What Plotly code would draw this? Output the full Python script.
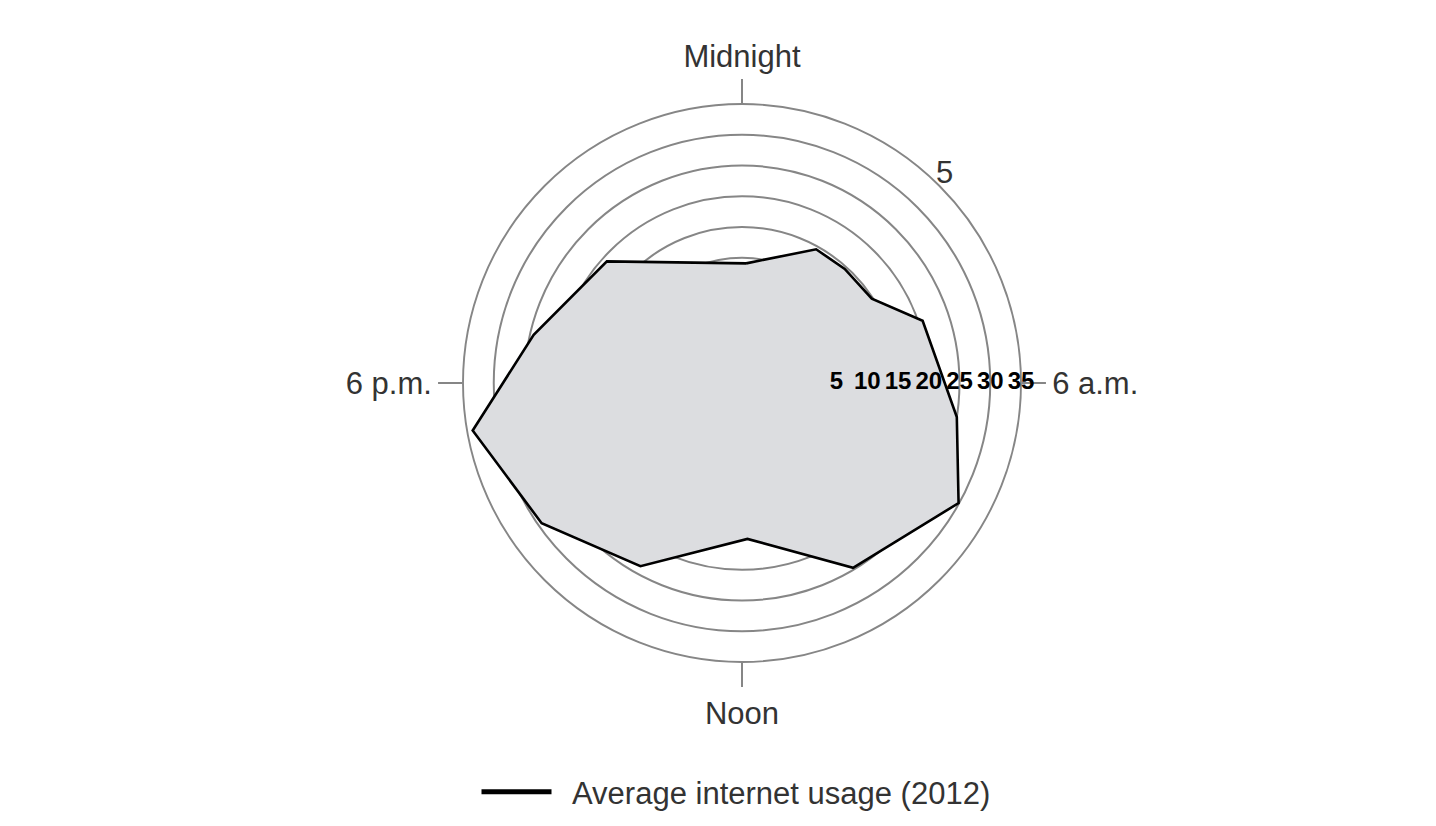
import plotly.graph_objects as go

# angle of each reading, degrees clockwise from midnight (15 deg = 1 hour)
angle_deg = [2, 29, 42, 57, 71, 99, 119, 149, 178, 209, 235, 260, 283, 312]
usage = [9.1, 14.5, 14.6, 14.8, 20.7, 25.0, 29.9, 24.7, 15.0, 23.7, 29.4, 34.1, 24.4, 19.2]

radial_ticks = [5, 10, 15, 20, 25, 30, 35]
clock_vals = [0, 90, 180, 270]
clock_text = ["Midnight", "6 a.m.", "Noon", "6 p.m."]

font = "Liberation Sans"
grey = "#868686"
W, H = 1436, 826

fig = go.Figure()

fig.add_trace(go.Scatterpolar(
    r=usage + usage[:1], theta=angle_deg + angle_deg[:1],
    mode="lines", fill="toself", fillcolor="#dcdde0",
    line=dict(color="black", width=2.6),
    showlegend=False, hoverinfo="skip"))

# radial tick labels sitting on the 6 a.m. line
fig.add_trace(go.Scatterpolar(
    r=radial_ticks, theta=[90] * len(radial_ticks),
    mode="text", text=[str(v) for v in radial_ticks],
    textfont=dict(family=font, size=24, color="black", weight="bold"),
    showlegend=False, hoverinfo="skip", cliponaxis=False))

# legend entry only
fig.add_trace(go.Scatterpolar(
    r=[None], theta=[None], mode="lines",
    line=dict(color="black", width=5),
    name="\u2002Average internet usage (2012)"))

fig.add_annotation(text="5", x=936 / W, y=1 - 165 / H, xref="paper", yref="paper",
                   xanchor="center", yanchor="middle",
                   showarrow=False, font=dict(family=font, size=31, color="#333"))

fig.update_layout(
    width=W, height=H,
    margin=dict(l=0, r=0, t=0, b=0),
    paper_bgcolor="white",
    font=dict(family=font, size=31, color="#333"),
    polar=dict(
        domain=dict(x=[455 / W, 1013 / W], y=[1 - 654 / H, 1 - 96 / H]),
        bgcolor="white",
        radialaxis=dict(
            range=[-10.36, 35], tickvals=radial_ticks, showticklabels=False,
            ticks="", showline=False, angle=0,
            showgrid=True, gridcolor=grey, gridwidth=1.9, layer="below traces"),
        angularaxis=dict(
            type="linear", thetaunit="degrees", rotation=90, direction="clockwise",
            tickvals=clock_vals, ticktext=clock_text,
            ticks="outside", ticklen=24, tickcolor=grey, tickwidth=1.8,
            showgrid=False, showline=True, linecolor=grey, linewidth=1.9,
            tickfont=dict(family=font, size=31, color="#333"),
            layer="below traces"),
    ),
    legend=dict(orientation="h", x=728 / W, xanchor="center", y=1 - 784 / H, yanchor="middle",
                itemwidth=70, font=dict(family=font, size=31, color="#333")),
)

fig.write_html("out.html")
